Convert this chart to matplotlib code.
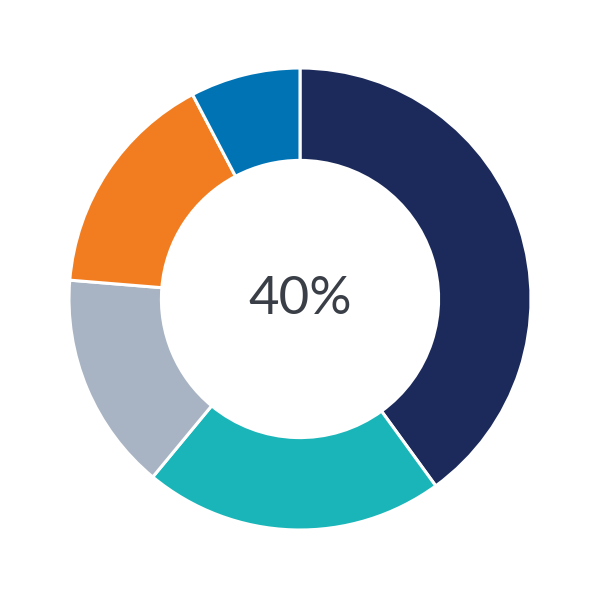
import matplotlib
matplotlib.use("Agg")
import matplotlib.pyplot as plt

labels = ["Navy", "Teal", "Grey", "Orange", "Blue"]
values = [40, 21, 15.3, 16, 7.7]
colors = ["#1B2A5A", "#1AB5B8", "#A8B4C3", "#F27D20", "#0073B5"]
center_label = "40%"

fig = plt.figure(figsize=(6, 5.99), dpi=100)
ax = fig.add_axes([0, 0, 1, 1])
R = 231.0
ax.pie(values, colors=colors, startangle=90, counterclock=False, radius=1,
       wedgeprops=dict(width=0.4, edgecolor="white", linewidth=2.2))
ax.set_xlim(-300 / R, 300 / R)
ax.set_ylim(-300 / R, 299 / R)
ax.set_aspect("equal")
ax.axis("off")
ax.text(0, 0, center_label, ha="center", va="center", fontsize=38,
        family=["Lato", "DejaVu Sans"], color="#3A3F47")
fig.savefig("out.png", dpi=100, facecolor="white")
